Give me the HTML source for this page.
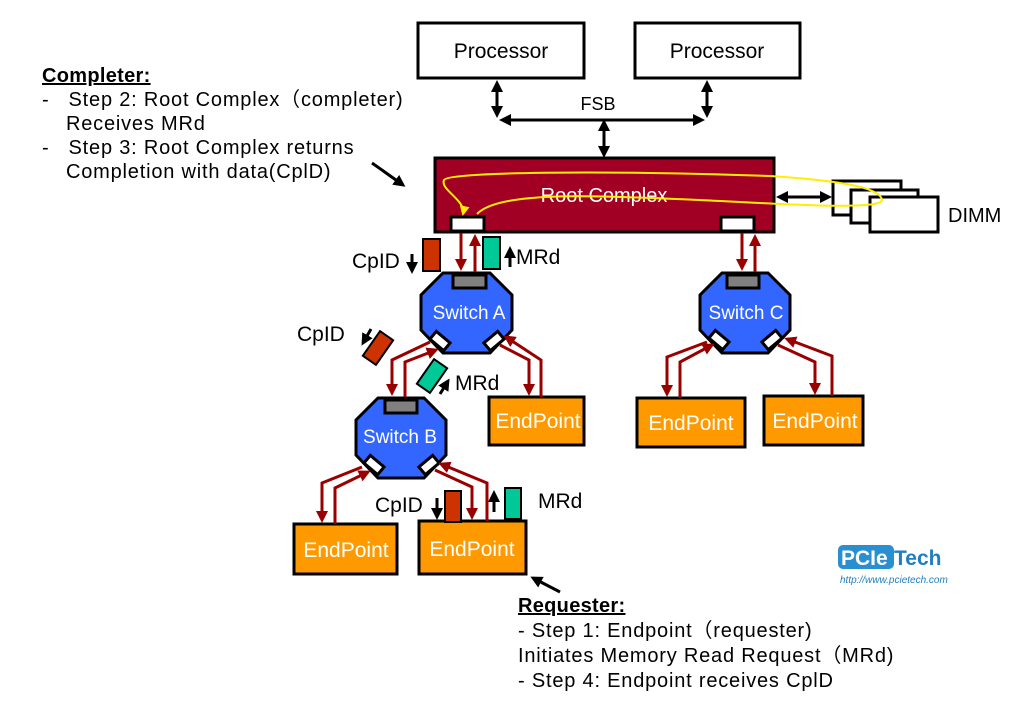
<!DOCTYPE html>
<html><head><meta charset="utf-8"><style>
html,body{margin:0;padding:0;background:#fff;}
svg{display:block;font-family:"Liberation Sans",sans-serif;}
</style></head><body>
<svg width="1024" height="705" viewBox="0 0 1024 705" xmlns="http://www.w3.org/2000/svg">
<defs>
<marker id="r" markerWidth="4" markerHeight="4" refX="3" refY="2" orient="auto-start-reverse" markerUnits="strokeWidth"><path d="M0,0 L4,2 L0,4 z" fill="#990000"/></marker>
<marker id="b" markerWidth="4" markerHeight="4" refX="3" refY="2" orient="auto-start-reverse" markerUnits="strokeWidth"><path d="M0,0 L4,2 L0,4 z" fill="#000"/></marker>
<marker id="y" markerWidth="5" markerHeight="5" refX="4" refY="2.5" orient="auto-start-reverse" markerUnits="strokeWidth"><path d="M0,0 L5,2.5 L0,5 z" fill="#ffee00"/></marker>
</defs>
<!-- processors -->
<rect x="418" y="23" width="166" height="55" fill="#fff" stroke="#000" stroke-width="3"/>
<text x="501" y="58" font-size="21" text-anchor="middle">Processor</text>
<rect x="635" y="23" width="165" height="55" fill="#fff" stroke="#000" stroke-width="3"/>
<text x="717" y="58" font-size="21" text-anchor="middle">Processor</text>
<!-- FSB -->
<g stroke="#000" stroke-width="3" fill="none">
<line x1="502" y1="120" x2="702" y2="120" marker-start="url(#b)" marker-end="url(#b)"/>
<line x1="497" y1="83" x2="497" y2="115" marker-start="url(#b)" marker-end="url(#b)"/>
<line x1="707" y1="83" x2="707" y2="115" marker-start="url(#b)" marker-end="url(#b)"/>
<line x1="604" y1="122" x2="604" y2="155" marker-start="url(#b)" marker-end="url(#b)"/>
<line x1="779" y1="197" x2="829" y2="197" marker-start="url(#b)" marker-end="url(#b)"/>
<line x1="372" y1="163" x2="403" y2="185" marker-end="url(#b)"/>
<line x1="560" y1="592" x2="533" y2="578" marker-end="url(#b)"/>
</g>
<text x="598" y="110" font-size="18" text-anchor="middle">FSB</text>
<!-- Root complex -->
<rect x="435" y="158" width="339" height="74" fill="#a10024" stroke="#000" stroke-width="3"/>
<text x="604" y="202" font-size="20" fill="#fff" text-anchor="middle">Root Complex</text>
<rect x="451" y="217" width="33" height="14" fill="#fff" stroke="#000" stroke-width="3"/>
<rect x="721" y="217" width="33" height="14" fill="#fff" stroke="#000" stroke-width="3"/>
<!-- DIMM -->
<rect x="833" y="181" width="68" height="34" fill="#fff" stroke="#000" stroke-width="3"/>
<rect x="851" y="190" width="67" height="33" fill="#fff" stroke="#000" stroke-width="3"/>
<rect x="870" y="197" width="68" height="35" fill="#fff" stroke="#000" stroke-width="3"/>
<text x="948" y="222" font-size="20">DIMM</text>
<!-- yellow path -->
<path d="M463,214 C466,200 440,190 444,180 C448,172 600,170 770,176 C830,180 880,186 882,200 C880,210 800,205 700,200 C600,196 500,190 477,214" fill="none" stroke="#ffee00" stroke-width="2" marker-start="url(#y)"/>
<!-- switches -->
<g stroke="#000" stroke-width="3">
<polygon points="443,273 490,273 512,295 512,330 490,353 443,353 421,330 421,295" fill="#3366ff"/>
<polygon points="722,273 768,273 790,295 790,330 768,353 722,353 700,330 700,295" fill="#3366ff"/>
<polygon points="378,398 424,398 446,420 446,455 424,478 378,478 356,455 356,420" fill="#3366ff"/>
<rect x="453" y="275" width="33" height="13" fill="#808080"/>
<rect x="727" y="275" width="32" height="13" fill="#808080"/>
<rect x="385" y="400" width="32" height="13" fill="#808080"/>
<rect x="-9" y="-5" width="18" height="10" fill="#fff" transform="translate(440,341) rotate(40)"/>
<rect x="-9" y="-5" width="18" height="10" fill="#fff" transform="translate(494,341) rotate(-40)"/>
<rect x="-9" y="-5" width="18" height="10" fill="#fff" transform="translate(719,340) rotate(40)"/>
<rect x="-9" y="-5" width="18" height="10" fill="#fff" transform="translate(772,340) rotate(-40)"/>
<rect x="-9" y="-5" width="18" height="10" fill="#fff" transform="translate(374,465) rotate(40)"/>
<rect x="-9" y="-5" width="18" height="10" fill="#fff" transform="translate(429,465) rotate(-40)"/>
</g>
<g font-size="19" fill="#fff" text-anchor="middle">
<text x="469" y="319">Switch A</text>
<text x="746" y="319">Switch C</text>
<text x="400" y="443">Switch B</text>
</g>
<!-- endpoints -->
<g stroke="#000" stroke-width="3" fill="#ff9900">
<rect x="489" y="397" width="95" height="48"/>
<rect x="637" y="398" width="108" height="49"/>
<rect x="764" y="396" width="99" height="49"/>
<rect x="294" y="524" width="103" height="50"/>
<rect x="419" y="521" width="107" height="53"/>
</g>
<g font-size="21" fill="#fff" text-anchor="middle">
<text x="538" y="428">EndPoint</text>
<text x="691" y="430">EndPoint</text>
<text x="815" y="428">EndPoint</text>
<text x="346" y="557">EndPoint</text>
<text x="472" y="556">EndPoint</text>
</g>
<!-- red arrows -->
<g stroke="#990000" stroke-width="3" fill="none">
<line x1="461" y1="233" x2="461" y2="268" marker-end="url(#r)"/>
<line x1="475" y1="272" x2="475" y2="237" marker-end="url(#r)"/>
<line x1="742" y1="233" x2="742" y2="268" marker-end="url(#r)"/>
<line x1="755" y1="272" x2="755" y2="237" marker-end="url(#r)"/>
<polyline points="430,342 392,360 392,393" marker-end="url(#r)"/>
<polyline points="405,397 405,362 436,350" marker-end="url(#r)"/>
<polyline points="500,345 529,360 529,393" marker-end="url(#r)"/>
<polyline points="541,397 541,360 506,337" marker-end="url(#r)"/>
<polyline points="707,342 667,357 667,394" marker-end="url(#r)"/>
<polyline points="680,398 680,362 712,345" marker-end="url(#r)"/>
<polyline points="778,345 815,362 815,392" marker-end="url(#r)"/>
<polyline points="832,396 832,356 787,339" marker-end="url(#r)"/>
<polyline points="362,467 322,483 322,520" marker-end="url(#r)"/>
<polyline points="335,524 335,488 368,472" marker-end="url(#r)"/>
<polyline points="435,470 472,487 472,517" marker-end="url(#r)"/>
<polyline points="487,521 487,483 441,464" marker-end="url(#r)"/>
</g>
<!-- packets -->
<g stroke="#000" stroke-width="2">
<rect x="423" y="239" width="17" height="32" fill="#cc3300"/>
<rect x="483" y="237" width="17" height="32" fill="#00c896"/>
<rect x="-8" y="-15" width="16" height="30" fill="#cc3300" transform="translate(378,348) rotate(35)"/>
<rect x="-8" y="-15" width="16" height="30" fill="#00c896" transform="translate(432,376) rotate(35)"/>
<rect x="445" y="491" width="16" height="31" fill="#cc3300"/>
<rect x="505" y="488" width="16" height="31" fill="#00c896"/>
</g>
<g stroke="#000" stroke-width="3" fill="none">
<line x1="412" y1="254" x2="412" y2="271" marker-end="url(#b)"/>
<line x1="510" y1="267" x2="510" y2="249" marker-end="url(#b)"/>
<line x1="371" y1="329" x2="363" y2="343" marker-end="url(#b)"/>
<line x1="440" y1="394" x2="448" y2="381" marker-end="url(#b)"/>
<line x1="437" y1="498" x2="437" y2="517" marker-end="url(#b)"/>
<line x1="494" y1="512" x2="494" y2="493" marker-end="url(#b)"/>
</g>
<g font-size="21">
<text x="352" y="268">CpID</text>
<text x="516" y="264">MRd</text>
<text x="297" y="341">CpID</text>
<text x="455" y="390">MRd</text>
<text x="375" y="512">CpID</text>
<text x="538" y="508">MRd</text>
</g>
<!-- left text -->
<g font-size="20" letter-spacing="0.8">
<text x="42" y="82" font-weight="bold" text-decoration="underline" letter-spacing="0.3">Completer:</text>
<text x="42" y="106" xml:space="preserve">-   Step 2: Root Complex（completer)</text>
<text x="66" y="130">Receives MRd</text>
<text x="42" y="154" xml:space="preserve">-   Step 3: Root Complex returns</text>
<text x="66" y="178">Completion with data(CplD)</text>
<text x="518" y="612" font-weight="bold" text-decoration="underline" letter-spacing="0.3">Requester:</text>
<text x="518" y="637">- Step 1: Endpoint（requester)</text>
<text x="518" y="662">Initiates Memory Read Request（MRd)</text>
<text x="518" y="687">- Step 4: Endpoint receives CplD</text>
</g>
<!-- logo -->
<rect x="838" y="545" width="56" height="24" rx="5" fill="#2a8fd0"/>
<text x="841" y="565" font-size="21" font-weight="bold" fill="#fff">PCIe</text>
<text x="894" y="565" font-size="21" font-weight="bold" fill="#1f7fc0">Tech</text>
<text x="840" y="583" font-size="10" font-style="italic" fill="#1f7fc0">http://www.pcietech.com</text>
</svg>
</body></html>
